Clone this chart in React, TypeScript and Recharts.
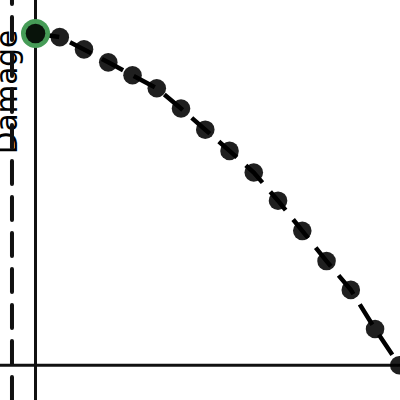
import React from 'react';
import { LineChart, Line, XAxis, YAxis, ReferenceLine } from 'recharts';

// step index along the curve
const steps = [0, 1, 2, 3, 4, 5, 6, 7, 8, 9, 10, 11, 12, 13, 14, 15];
// damage
const damage = [100, 98.9, 95.2, 91.3, 87.4, 83.5, 77.4, 71.0, 64.6, 58.1, 49.6, 40.5, 31.4, 22.7, 10.9, 0];
// position of the dashed marker line, in step units
const markerStep = -0.97;

const data = steps.map((s, i) => ({ step: s, damage: damage[i] }));

const renderDot = (props: any) => {
    const { cx, cy, index } = props;
    if (index === 0) {
        return (
            <g key={`dot-${index}`}>
                <circle cx={cx} cy={cy} r={14.5} fill="#469c57" />
                <circle cx={cx} cy={cy} r={9.8} fill="#000" fillOpacity={0.88} />
            </g>
        );
    }
    return <circle key={`dot-${index}`} cx={cx} cy={cy} r={9.3} fill="#000" fillOpacity={0.88} />;
};

const App: React.FC = () => {
    return (
        <div style={{ position: 'absolute', left: 0, top: 0, width: 400, height: 400, background: '#fff' }}>
            <LineChart width={400} height={400} data={data} margin={{ top: 0, right: 0, bottom: 0, left: 0 }}>
                <XAxis dataKey="step" type="number" domain={[-1.464, 15.029]} allowDataOverflow hide />
                <YAxis type="number" domain={[-10.49, 110.1]} allowDataOverflow hide />
                <ReferenceLine x={markerStep} stroke="#111" strokeWidth={4} strokeDasharray="23 13" strokeLinecap="round" />
                <ReferenceLine x={0} stroke="#111" strokeWidth={3} />
                <ReferenceLine y={0} stroke="#111" strokeWidth={3} />
                <Line
                    dataKey="damage"
                    stroke="#000"
                    strokeWidth={4.5}
                    strokeDasharray="24 12"
                    type="linear"
                    dot={renderDot}
                    activeDot={false}
                    isAnimationActive={false}
                />
                <text
                    x={17}
                    y={92}
                    transform="rotate(-90 17 92)"
                    textAnchor="middle"
                    fontFamily="DejaVu Sans"
                    fontSize={29.5}
                    fill="#000"
                >
                    Damage
                </text>
            </LineChart>
        </div>
    );
};

export default App;
